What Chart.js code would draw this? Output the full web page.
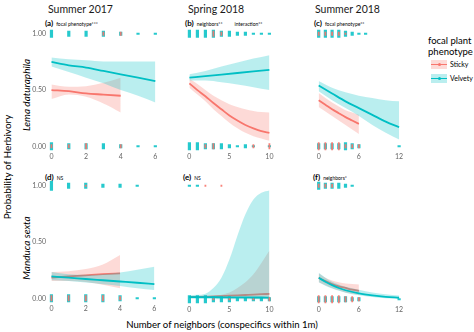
<!DOCTYPE html>
<html lang="en">
<head>
<meta charset="UTF-8">
<title>Probability of Herbivory</title>
<script src="https://cdn.jsdelivr.net/npm/chart.js"></script>
<style>
  body { margin: 0; background: #fff; font-family: Lato, "Open Sans", sans-serif; }
  #fig { position: relative; width: 474px; height: 332px; overflow: hidden; }
  #fig canvas { position: absolute; }
  .txt { position: absolute; white-space: nowrap; color: #000; line-height: 1; }
  .title { font-size: 10.5px; color: #1a1a1a; }
  .tag { font-size: 8px; font-weight: bold; }
  .tag span { font-size: 5px; font-weight: normal; margin-left: 3px; }
  .rot { transform: translate(-50%, -50%) rotate(-90deg); }
  .key { position: absolute; width: 16px; height: 9px; }
  .key .ln { position: absolute; left: 0; right: 0; top: 3.6px; height: 1.8px; }
  .key .dot { position: absolute; left: 6.5px; top: 3px; width: 3px; height: 3px; border-radius: 50%; }
</style>
</head>
<body>
<div id="fig">
  <div class="txt title" style="left:48px;top:4px;">Summer 2017</div>
  <div class="txt title" style="left:188px;top:4px;">Spring 2018</div>
  <div class="txt title" style="left:315px;top:4px;">Summer 2018</div>

  <div class="txt tag" style="left:45px;top:19px;">(a)<span>focal phenotype***</span></div>
  <div class="txt tag" style="left:185px;top:19px;">(b)<span>neighbors**</span><span style="margin-left:12px">interaction**</span></div>
  <div class="txt tag" style="left:314px;top:19px;">(c)<span>focal phenotype**</span></div>
  <div class="txt tag" style="left:45px;top:173px;">(d)<span>NS</span></div>
  <div class="txt tag" style="left:183px;top:173px;">(e)<span>NS</span></div>
  <div class="txt tag" style="left:313px;top:173px;">(f)<span>neighbors*</span></div>

  <div class="txt rot" style="left:7px;top:167px;font-size:10px;">Probability of Herbivory</div>
  <div class="txt rot" style="left:26px;top:95px;font-size:10px;font-style:italic;">Lema daturaphila</div>
  <div class="txt rot" style="left:26px;top:248px;font-size:10px;font-style:italic;">Manduca sexta</div>
  <div class="txt" style="left:222px;top:325px;font-size:9.6px;transform:translate(-50%,-50%);">Number of neighbors (conspecifics within 1m)</div>

  <div class="txt" style="left:428px;top:35px;font-size:9.5px;line-height:11px;">focal plant<br>phenotype</div>
  <div class="key" style="left:431px;top:60px;background:rgba(248,118,109,0.27);"><div class="ln" style="background:#F8766D"></div><div class="dot" style="background:#F8766D"></div></div>
  <div class="key" style="left:431px;top:74px;background:rgba(0,191,196,0.27);"><div class="ln" style="background:#00BFC4"></div><div class="dot" style="background:#00BFC4"></div></div>
  <div class="txt" style="left:450px;top:61px;font-size:7px;">Sticky</div>
  <div class="txt" style="left:450px;top:75px;font-size:7px;">Velvety</div>
</div>

<script>
// ---- fitted curves (probability) ----
// (a) Lema, Summer 2017
const stickyX_a = [0, 1, 2, 3, 4];
const stickyFit_a = [0.50, 0.49, 0.47, 0.46, 0.45];
const stickyHi_a = [0.55, 0.53, 0.535, 0.565, 0.61];
const stickyLo_a = [0.42, 0.46, 0.44, 0.38, 0.30];
const velvetyX_a = [0, 1, 2, 3, 4, 5, 6];
const velvetyFit_a = [0.75, 0.72, 0.70, 0.67, 0.64, 0.61, 0.58];
const velvetyHi_a = [0.79, 0.775, 0.765, 0.755, 0.755, 0.755, 0.755];
const velvetyLo_a = [0.71, 0.66, 0.61, 0.56, 0.50, 0.45, 0.39];

// (b) Lema, Spring 2018
const stickyX_b = [0, 1, 2, 3, 4, 5, 6, 7, 8, 9, 10];
const stickyFit_b = [0.56, 0.50, 0.445, 0.385, 0.33, 0.275, 0.23, 0.19, 0.16, 0.135, 0.12];
const stickyHi_b = [0.60, 0.555, 0.50, 0.45, 0.41, 0.375, 0.35, 0.33, 0.315, 0.305, 0.30];
const stickyLo_b = [0.52, 0.46, 0.40, 0.33, 0.27, 0.21, 0.16, 0.12, 0.09, 0.07, 0.05];
const velvetyX_b = [0, 2, 4, 6, 8, 10];
const velvetyFit_b = [0.61, 0.624, 0.638, 0.652, 0.666, 0.68];
const velvetyHi_b = [0.64, 0.67, 0.71, 0.745, 0.78, 0.81];
const velvetyLo_b = [0.585, 0.585, 0.57, 0.55, 0.525, 0.50];

// (c) Lema, Summer 2018
const stickyX_c = [0, 1, 2, 3, 4, 5, 6];
const stickyFit_c = [0.41, 0.37, 0.33, 0.295, 0.26, 0.23, 0.20];
const stickyHi_c = [0.475, 0.43, 0.39, 0.355, 0.32, 0.30, 0.28];
const stickyLo_c = [0.35, 0.31, 0.27, 0.23, 0.19, 0.15, 0.11];
const velvetyX_c = [0, 2, 4, 6, 8, 10, 12];
const velvetyFit_c = [0.54, 0.47, 0.40, 0.34, 0.28, 0.22, 0.17];
const velvetyHi_c = [0.58, 0.52, 0.48, 0.45, 0.43, 0.41, 0.40];
const velvetyLo_c = [0.49, 0.41, 0.34, 0.27, 0.19, 0.12, 0.06];

// (d) Manduca, Summer 2017
const stickyX_d = [0, 1, 2, 3, 4];
const stickyFit_d = [0.185, 0.195, 0.205, 0.215, 0.223];
const stickyHi_d = [0.235, 0.24, 0.26, 0.30, 0.385];
const stickyLo_d = [0.155, 0.155, 0.145, 0.12, 0.09];
const velvetyX_d = [0, 1, 2, 3, 4, 5, 6];
const velvetyFit_d = [0.195, 0.184, 0.172, 0.161, 0.150, 0.139, 0.127];
const velvetyHi_d = [0.235, 0.215, 0.21, 0.215, 0.23, 0.255, 0.28];
const velvetyLo_d = [0.16, 0.155, 0.14, 0.125, 0.11, 0.09, 0.075];

// (e) Manduca, Spring 2018
const stickyX_e = [0, 1, 2, 3, 4, 5, 6, 7, 8, 9, 10];
const stickyFit_e = [0.02, 0.022, 0.024, 0.026, 0.029, 0.032, 0.035, 0.038, 0.041, 0.045, 0.048];
const stickyHi_e = [0.025, 0.025, 0.025, 0.03, 0.04, 0.06, 0.10, 0.15, 0.22, 0.32, 0.43];
const stickyLo_e = [0.01, 0.012, 0.013, 0.013, 0.012, 0.01, 0.008, 0.006, 0.005, 0.004, 0.003];
const velvetyX_e = [0, 1, 2, 3, 4, 5, 6, 7, 8, 9, 10];
const velvetyFit_e = [0.02, 0.02, 0.019, 0.019, 0.018, 0.018, 0.017, 0.017, 0.016, 0.016, 0.015];
const velvetyHi_e = [0.035, 0.04, 0.05, 0.10, 0.19, 0.35, 0.56, 0.75, 0.88, 0.94, 0.96];
const velvetyLo_e = [0.005, 0.003, 0.002, 0.001, 0, 0, 0, 0, 0, 0, 0];

// (f) Manduca, Summer 2018
const stickyX_f = [0, 1, 2, 3, 4, 5, 6];
const stickyFit_f = [0.19, 0.16, 0.135, 0.115, 0.10, 0.085, 0.075];
const stickyHi_f = [0.23, 0.19, 0.165, 0.15, 0.14, 0.135, 0.13];
const stickyLo_f = [0.15, 0.125, 0.10, 0.08, 0.06, 0.05, 0.04];
const velvetyX_f = [0, 1, 2, 3, 4, 6, 8, 10, 12];
const velvetyFit_f = [0.19, 0.155, 0.125, 0.10, 0.08, 0.053, 0.035, 0.022, 0.014];
const velvetyHi_f = [0.235, 0.19, 0.155, 0.13, 0.11, 0.085, 0.06, 0.045, 0.034];
const velvetyLo_f = [0.15, 0.12, 0.095, 0.075, 0.058, 0.035, 0.02, 0.01, 0.006];

// ---- raw observations (herbivory yes=1 / no=0), x = neighbor count, n = cluster size ----
const topTealX_a = [0, 1, 2, 3, 4, 5, 6], topTealN_a = [4, 3, 3, 3, 2, 1, 1];
const topRedX_a = [3, 4], topRedN_a = [2, 2];
const botTealX_a = [0, 1, 2, 3, 4, 5, 6], botTealN_a = [4, 3, 3, 3, 2, 1, 1];
const botRedX_a = [0, 1, 2, 4], botRedN_a = [2, 2, 3, 2];

const topTealX_b = [0, 1, 2, 3, 4, 5, 6, 7, 8, 9, 10], topTealN_b = [4, 4, 4, 4, 3, 3, 2, 2, 1, 1, 1];
const topRedX_b = [3, 4], topRedN_b = [3, 2];
const botTealX_b = [0, 1, 2, 3, 4, 5, 6, 7, 8, 10], botTealN_b = [4, 4, 3, 3, 3, 2, 1, 2, 1, 1];
const botRedX_b = [2, 3, 8, 10], botRedN_b = [2, 3, 2, 3];

const topTealX_c = [0, 1, 2, 3, 4, 5, 6, 7], topTealN_c = [4, 4, 4, 4, 3, 2, 1, 1];
const topRedX_c = [0, 1, 2, 3, 4], topRedN_c = [2, 2, 2, 2, 1];
const botTealX_c = [0, 1, 2, 3, 4, 5, 6, 12], botTealN_c = [3, 3, 3, 3, 4, 3, 2, 1];
const botRedX_c = [0, 1, 2, 3, 4, 5, 6], botRedN_c = [4, 4, 4, 4, 2, 2, 2];

const topTealX_d = [0, 1, 2, 3, 4, 5], topTealN_d = [5, 3, 3, 2, 2, 1];
const topRedX_d = [2], topRedN_d = [1];
const botTealX_d = [0, 1, 2, 3, 4, 5, 6], botTealN_d = [4, 4, 4, 4, 3, 1, 1];
const botRedX_d = [0, 1, 2, 3, 4], botRedN_d = [3, 3, 3, 3, 2];

const topTealX_e = [0, 1], topTealN_e = [1, 1];
const topRedX_e = [2, 4], topRedN_e = [1, 1];
const botTealX_e = [0, 1, 2, 3, 4, 5, 6, 7, 8, 9, 10], botTealN_e = [4, 4, 4, 3, 3, 3, 2, 2, 2, 2, 2];
const botRedX_e = [3, 5, 8, 10], botRedN_e = [1, 1, 1, 2];

const topTealX_f = [0, 1, 2, 3, 4, 5], topTealN_f = [4, 3, 3, 3, 2, 1];
const topRedX_f = [0, 1, 2], topRedN_f = [2, 2, 2];
const botTealX_f = [0, 1, 2, 3, 4, 5, 6, 12], botTealN_f = [3, 3, 3, 3, 3, 2, 2, 1];
const botRedX_f = [0, 1, 2, 3, 4, 5, 6], botRedN_f = [4, 4, 4, 4, 3, 3, 2];

const yTicks = [0, 0.5, 1];

const RED = '#F8766D', TEAL = '#00BFC4';
const RED_FILL = 'rgba(248,118,109,0.27)', TEAL_FILL = 'rgba(0,191,196,0.27)';

// plot rectangles on the page (layout only)
const panels = [
  { box: { l: 47.5, t: 28.1, r: 159.5, b: 157.3 }, xMin: -0.2, xMax: 6.2, xTicks: [0, 2, 4, 6], showY: true,
    s: [stickyX_a, stickyFit_a, stickyHi_a, stickyLo_a], v: [velvetyX_a, velvetyFit_a, velvetyHi_a, velvetyLo_a],
    dots: [topTealX_a, topTealN_a, botTealX_a, botTealN_a, topRedX_a, topRedN_a, botRedX_a, botRedN_a] },
  { box: { l: 186.8, t: 28.1, r: 299.2, b: 157.3 }, xMin: -0.3, xMax: 10.3, xTicks: [0, 5, 10], showY: false,
    s: [stickyX_b, stickyFit_b, stickyHi_b, stickyLo_b], v: [velvetyX_b, velvetyFit_b, velvetyHi_b, velvetyLo_b],
    dots: [topTealX_b, topTealN_b, botTealX_b, botTealN_b, topRedX_b, topRedN_b, botRedX_b, botRedN_b] },
  { box: { l: 315.5, t: 28.1, r: 428.5, b: 157.3 }, xMin: -0.4, xMax: 12.4, xTicks: [0, 6, 12], showY: false,
    s: [stickyX_c, stickyFit_c, stickyHi_c, stickyLo_c], v: [velvetyX_c, velvetyFit_c, velvetyHi_c, velvetyLo_c],
    dots: [topTealX_c, topTealN_c, botTealX_c, botTealN_c, topRedX_c, topRedN_c, botRedX_c, botRedN_c] },
  { box: { l: 47.5, t: 180.1, r: 159.5, b: 309.9 }, xMin: -0.2, xMax: 6.2, xTicks: [0, 2, 4, 6], showY: true,
    s: [stickyX_d, stickyFit_d, stickyHi_d, stickyLo_d], v: [velvetyX_d, velvetyFit_d, velvetyHi_d, velvetyLo_d],
    dots: [topTealX_d, topTealN_d, botTealX_d, botTealN_d, topRedX_d, topRedN_d, botRedX_d, botRedN_d] },
  { box: { l: 186.8, t: 180.1, r: 299.2, b: 309.9 }, xMin: -0.3, xMax: 10.3, xTicks: [0, 5, 10], showY: false,
    s: [stickyX_e, stickyFit_e, stickyHi_e, stickyLo_e], v: [velvetyX_e, velvetyFit_e, velvetyHi_e, velvetyLo_e],
    dots: [topTealX_e, topTealN_e, botTealX_e, botTealN_e, topRedX_e, topRedN_e, botRedX_e, botRedN_e] },
  { box: { l: 315.5, t: 180.1, r: 428.5, b: 309.9 }, xMin: -0.4, xMax: 12.4, xTicks: [0, 6, 12], showY: false,
    s: [stickyX_f, stickyFit_f, stickyHi_f, stickyLo_f], v: [velvetyX_f, velvetyFit_f, velvetyHi_f, velvetyLo_f],
    dots: [topTealX_f, topTealN_f, botTealX_f, botTealN_f, topRedX_f, topRedN_f, botRedX_f, botRedN_f] }
];

function xy(xs, ys) { return xs.map((x, i) => ({ x: x, y: ys[i] })); }
function at(xs, y) { return xs.map(x => ({ x: x, y: y })); }

function band(xs, ys, fill, color, order) {
  return { data: xy(xs, ys), fill: fill, backgroundColor: color, borderColor: 'transparent',
           borderWidth: 0, pointRadius: 0, cubicInterpolationMode: 'monotone', order: order };
}
function fitLine(xs, ys, color, order) {
  return { data: xy(xs, ys), borderColor: color, borderWidth: 1.8, pointRadius: 0, fill: false,
           cubicInterpolationMode: 'monotone', order: order };
}
function dots(xs, ns, y, color, w, order) {
  return { data: at(xs, y), showLine: false, pointStyle: 'line', pointRotation: 90,
           pointRadius: ns, pointBorderWidth: w, pointBorderColor: color, order: order };
}

const fig = document.getElementById('fig');
const yW = 26, padT = 2, padR = 6, xH = 12;

panels.forEach(p => {
  const plotW = p.box.r - p.box.l, plotH = p.box.b - p.box.t;
  const leftW = p.showY ? yW : 0;
  const canvas = document.createElement('canvas');
  canvas.width = Math.round(leftW + plotW + padR);
  canvas.height = Math.round(padT + plotH + xH);
  canvas.style.left = (p.box.l - leftW) + 'px';
  canvas.style.top = (p.box.t - padT) + 'px';
  fig.appendChild(canvas);

  const d = p.dots;
  const chart = new Chart(canvas, {
    type: 'line',
    data: {
      datasets: [
        band(p.s[0], p.s[2], '+1', RED_FILL, 6),
        band(p.s[0], p.s[3], false, RED_FILL, 6),
        fitLine(p.s[0], p.s[1], RED, 5),
        band(p.v[0], p.v[2], '+1', TEAL_FILL, 4),
        band(p.v[0], p.v[3], false, TEAL_FILL, 4),
        fitLine(p.v[0], p.v[1], TEAL, 3),
        dots(d[0], d[1], 1, 'rgba(0,191,196,0.85)', 3.2, 2),
        dots(d[2], d[3], 0, 'rgba(0,191,196,0.85)', 3.2, 2),
        dots(d[4], d[5], 1, 'rgba(248,118,109,0.9)', 1.8, 1),
        dots(d[6], d[7], 0, 'rgba(248,118,109,0.9)', 1.8, 1)
      ]
    },
    options: {
      responsive: false,
      animation: false,
      devicePixelRatio: 1,
      layout: { padding: { left: 0, top: padT, right: padR, bottom: 0 } },
      plugins: { legend: { display: false }, tooltip: { enabled: false } },
      scales: {
        x: {
          type: 'linear', min: p.xMin, max: p.xMax,
          afterBuildTicks: axis => { axis.ticks = p.xTicks.map(v => ({ value: v })); },
          afterFit: axis => { axis.height = xH; },
          grid: { display: false, drawTicks: false },
          border: { display: false },
          ticks: { font: { family: 'Lato', size: 7 }, color: '#666', padding: 1, maxRotation: 0, autoSkip: false }
        },
        y: {
          display: p.showY, min: -0.05, max: 1.05,
          afterBuildTicks: axis => { axis.ticks = yTicks.map(v => ({ value: v })); },
          afterFit: axis => { axis.width = yW; },
          grid: { display: false, drawTicks: false },
          border: { display: false },
          ticks: { font: { family: 'Lato', size: 7 }, color: '#666', padding: 2, callback: v => v.toFixed(2) }
        }
      }
    }
  });

  // line the plot area up with the panel rectangle
  const area = chart.chartArea;
  canvas.style.left = (p.box.l - area.left) + 'px';
  canvas.style.top = (p.box.t - area.top) + 'px';
});
</script>
</body>
</html>
